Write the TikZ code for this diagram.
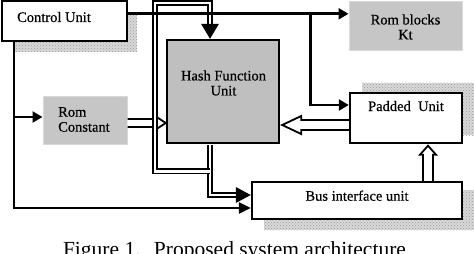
\documentclass[tikz,border=0pt]{standalone}
\usepackage{fontspec}
\setmainfont{Liberation Serif}
\newfontfamily\boxfont{Liberation Serif}[FakeBold=0.5]
\usetikzlibrary{arrows.meta,calc,patterns}
\begin{document}
\begin{tikzpicture}[x=1pt,y=-1pt,
  box/.style={draw=black,line width=2.4pt,fill=white,inner sep=0pt},
  graybox/.style={fill=gray!45,draw=gray!30,line width=1pt,inner sep=0pt},
  shadowbg/.style={fill=gray!30},
  shadow/.style={pattern=crosshatch dots,pattern color=gray!80},
  conn/.style={line width=2.6pt,-{Triangle[length=10pt,width=11pt]}},
  hollow/.style={draw=black,fill=white,line width=1.8pt,line join=miter},
  dbl/.style={line width=1.8pt,double=white,double distance=2.4pt},
  lbl/.style={font=\boxfont\fontsize{14.5}{15}\selectfont,inner sep=0pt,align=center}]
\useasboundingbox (0,0) rectangle (474,254);
% shadows
\foreach \a/\b in {{(15,13)}/{(137,52)},{(362,83)}/{(474,135)},{(264,190)}/{(474,230)}}{
  \fill[shadowbg] \a rectangle \b;
  \fill[shadow] \a rectangle \b;
}
% boxes
\node[box,minimum width=125pt,minimum height=40pt] (cu) at (64.5,21) {};
\node[graybox,minimum width=113pt,minimum height=49pt] (rk) at (405.5,26.5) {};
\node[box,fill=gray!50,minimum width=112pt,minimum height=103pt] (hash) at (223,91.5) {};
\node[graybox,minimum width=84pt,minimum height=48pt] (rc) at (85,120) {};
\node[box,minimum width=112pt,minimum height=50pt] (pu) at (406,118) {};
\node[box,minimum width=210pt,minimum height=37pt] (bus) at (357,200.5) {};
% hollow arrows
\coordinate (a1) at ($(rc.east)+(0,3)$);
\coordinate (t1) at (hash.west |- a1);
\draw[hollow] ($(a1)+(0,-4)$) -- ($(t1)+(-10,-4)$) -- ($(t1)+(-10,-6.5)$) -- (t1)
  -- ($(t1)+(-10,6.5)$) -- ($(t1)+(-10,4)$) -- ($(a1)+(0,4)$);
\coordinate (a2) at ($(pu.west)+(0,7)$);
\coordinate (t2) at ($(hash.east |- a2)+(2,0)$);
\draw[hollow] ($(a2)+(0,-5)$) -- ($(t2)+(19,-5)$) -- ($(t2)+(19,-9)$) -- (t2)
  -- ($(t2)+(19,9)$) -- ($(t2)+(19,5)$) -- ($(a2)+(0,5)$);
\coordinate (t3) at ($(pu.south)+(22,1.5)$);
\coordinate (a3) at (t3 |- bus.north);
\draw[hollow] ($(a3)+(-5,0)$) -- ($(t3)+(-5,9)$) -- ($(t3)+(-8,9)$) -- (t3)
  -- ($(t3)+(8,9)$) -- ($(t3)+(5,9)$) -- ($(a3)+(5,0)$);
% double lines
\coordinate (d0) at ($(hash.south)+(-13,1.2)$);
\coordinate (bw) at ($(bus.west)+(0,-5.5)$);
\draw[dbl] (d0) |- ($(bw)+(-14,0)$);
\fill ($(bw)+(-15,-8)$) -- (bw) -- ($(bw)+(-15,8)$) -- cycle;
\coordinate (d2) at ($(d0)+(0,26)$);
\coordinate (tp) at ($(hash.north)+(-13,0)$);
\draw[dbl] (d2) -- ++(-55,0) |- ($(tp)+(0,-35.5)$) -- ($(tp)+(0,-14)$);
\fill ($(tp)+(-9,-15)$) -- (tp) -- ($(tp)+(9,-15)$) -- cycle;
% black connectors
\coordinate (c1) at ($(cu.north east)+(0,14)$);
\draw[conn] (c1) -- (c1 -| rk.west);
\coordinate (j1) at ($(c1)+(182,0)$);
\draw[conn] (j1) |- ($(pu.west)+(0,-13)$);
\coordinate (c2) at ($(cu.south west)+(13,0)$);
\draw[conn,-{Triangle[length=12pt,width=11pt]}] (c2) |- ($(bus.west)+(0,7.5)$);
\coordinate (r1) at ($(rc.west)+(0,-3)$);
\draw[conn] (c2 |- r1) -- (r1);
% labels
\node[lbl,anchor=base] (cut) at (54,22) {Control Unit};
\node[lbl] (rkt) at (405.5,27) {Rom blocks\\Kt};
\node[lbl] (hasht) at (223.5,83) {Hash Function\\Unit};
\node[lbl,align=left,anchor=west] (rct) at (58,119.5) {Rom\\Constant};
\node[lbl,anchor=base] (put) at (406,111) {Padded\ \ Unit};
\node[lbl,anchor=base] (bust) at (357,200.7) {Bus interface unit};
\node[font=\fontsize{21.5}{24}\selectfont,anchor=base,inner sep=0pt] (cap) at (234.5,256)
  {Figure 1.\hspace{0.62em}Proposed system architecture};
\end{tikzpicture}
\end{document}
